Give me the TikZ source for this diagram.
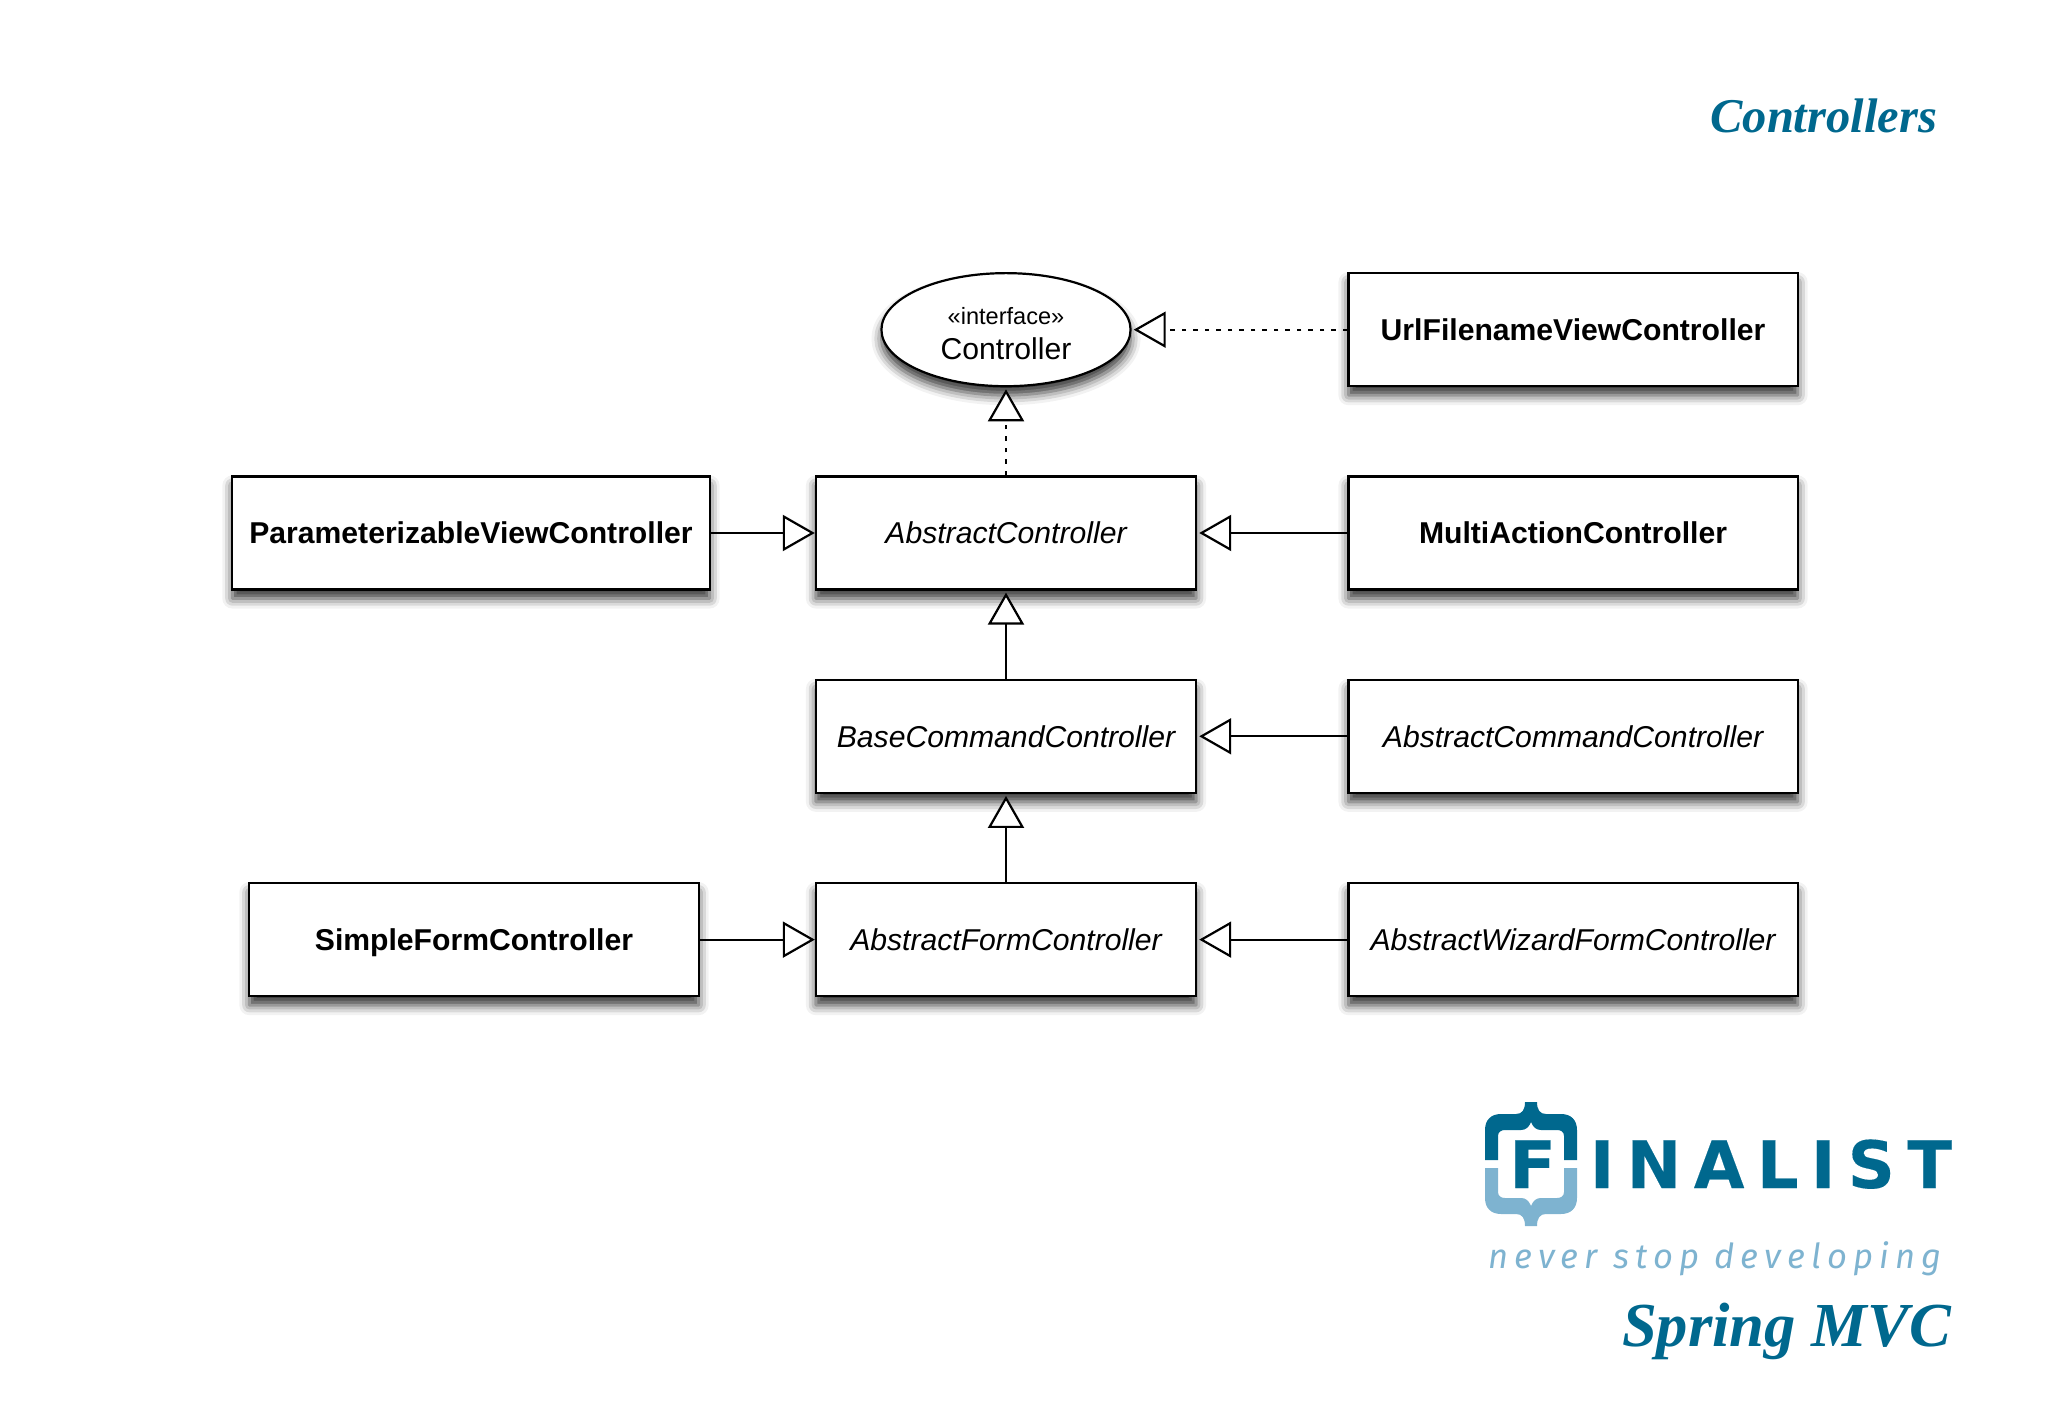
\documentclass[tikz,border=0pt]{standalone}
\usepackage{fontspec}
\setmainfont{Liberation Sans}
\newfontfamily\capfont{Liberation Serif}
\newfontfamily\logofont[LetterSpace=19, FakeBold=0.2]{DejaVu Sans}
\newfontfamily\slogan[LetterSpace=18]{Fira Sans}
\usepackage{tikz}
\usetikzlibrary{arrows.meta,positioning,shapes.geometric,shadows.blur}
\usepackage{xcolor}
\definecolor{finalblue}{RGB}{0,104,142}
\definecolor{softfinal}{RGB}{126,179,208}
\newcommand{\logohalf}{% bracket around the F, upper half
  (-46,-4) -- (-46,-34) .. controls (-46,-44) and (-40,-50) .. (-30,-50) -- (-15,-50)
  .. controls (-9,-50) and (-6,-54) .. (-6,-62) -- (6,-62)
  .. controls (6,-54) and (9,-50) .. (15,-50) -- (30,-50)
  .. controls (40,-50) and (46,-44) .. (46,-34) -- (46,-4) -- (33,-4) -- (33,-28)
  .. controls (33,-32) and (30,-34) .. (26,-34) -- (10,-34)
  .. controls (5,-34) and (2,-37) .. (0,-42)
  .. controls (-2,-37) and (-5,-34) .. (-10,-34) -- (-26,-34)
  .. controls (-30,-34) and (-33,-32) .. (-33,-28) -- (-33,-4) -- cycle}
\begin{document}
\begin{tikzpicture}[x=0.01cm, y=-0.01cm, >={Triangle[fill=white, length=0.32cm, width=0.36cm]}, line width=0.022cm]
\tikzset{
  classbox/.style={draw=black, fill=white, minimum height=1.13cm, inner sep=0pt, align=center,
    font=\fontsize{8.57}{11}\selectfont,
    blur shadow={shadow xshift=0cm, shadow yshift=-0.09cm, shadow blur radius=0.1cm, shadow opacity=80}},
  narrow/.style={classbox, minimum width=3.8cm, font=\fontsize{8.57}{11}\selectfont\itshape},
  wide/.style={classbox, minimum width=4.49cm},
  concrete/.style={text depth=0pt, font=\fontsize{8.57}{11}\selectfont\bfseries},
  abstr/.style={font=\fontsize{8.57}{11}\selectfont\itshape},
  inherit/.style={->, shorten >=0.02cm},
  realize/.style={inherit, dash pattern=on 0.045cm off 0.07cm}
}
\useasboundingbox (0,0) rectangle (2048,1425);
\node[narrow] (ac) at (1006,533) {AbstractController};
\node[narrow, below=0.88cm of ac] (base) {BaseCommandController};
\node[narrow, below=0.88cm of base] (form) {AbstractFormController};
\node[classbox, ellipse, minimum width=2.49cm, above=0.88cm of ac, font=\fontsize{8.57}{10.5}\selectfont] (ctrl)
  {\rule{0pt}{7pt}{\fontsize{6.7}{8}\selectfont «interface»}\\[-0.6pt]Controller};
\node[wide, concrete, right=1.5cm of ac] (multi) {MultiActionController};
\node[wide, concrete, above=0.88cm of multi] (url) {UrlFilenameViewController};
\node[wide, abstr, below=0.88cm of multi] (cmd) {AbstractCommandController};
\node[wide, abstr, below=0.88cm of cmd] (wiz) {AbstractWizardFormController};
\node[classbox, concrete, minimum width=4.77cm, left=1.04cm of ac] (param) {ParameterizableViewController};
\node[wide, concrete, left=1.15cm of form] (simple) {SimpleFormController};

\draw[realize] (url) -- (ctrl);
\draw[realize] (ac) -- (ctrl);
\draw[inherit] (multi) -- (ac);
\draw[inherit, shorten >=0cm] (param) -- (ac);
\draw[inherit] (base) -- (ac);
\draw[inherit] (cmd) -- (base);
\draw[inherit] (form) -- (base);
\draw[inherit] (wiz) -- (form);
\draw[inherit, shorten >=0cm] (simple) -- (form);

% captions and logo
\node[anchor=base east, text=finalblue, inner sep=0pt, font=\fontsize{13.8}{15}\capfont\bfseries\itshape] (title) at (1938,133) {Controllers};
\fill[finalblue, shift={(1531,1164)}] \logohalf;
\fill[softfinal, shift={(1531,1164)}, yscale=-1] \logohalf;
\node[anchor=base west, text=finalblue, inner sep=0pt, xscale=1.05, font=\fontsize{18.6}{20}\logofont\bfseries] (letterf) at (1508,1188) {F};
\node[anchor=base east, text=finalblue, inner sep=0pt, font=\fontsize{18.6}{20}\logofont\bfseries] (inalist) at (1953,1188) {INALIST};
\node[anchor=base west, text=softfinal, inner sep=0pt, font=\fontsize{9.8}{12}\slogan\itshape] (never) at (1487,1268) {never stop developing};
\node[anchor=base east, text=finalblue, inner sep=0pt, font=\fontsize{17.8}{19}\capfont\bfseries\itshape] (spring) at (1952,1346) {Spring MVC};
\end{tikzpicture}
\end{document}
